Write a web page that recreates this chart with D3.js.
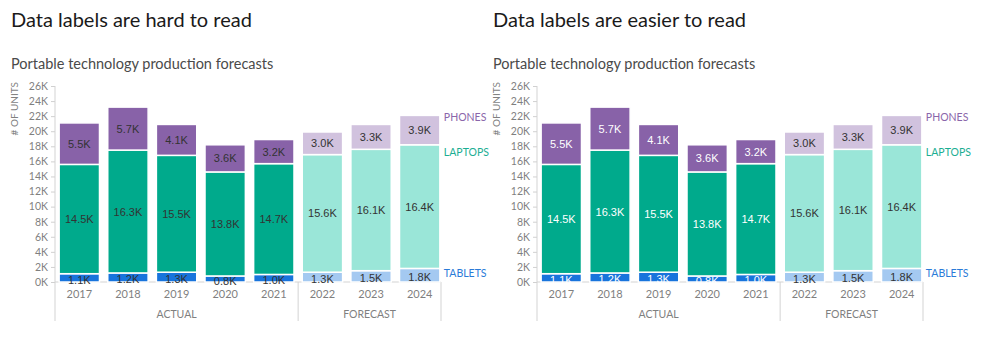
<!DOCTYPE html>
<html lang="en">
    <head>
        <meta charset="utf-8">
        <title>Data labels</title>
        <script src="https://d3js.org/d3.v7.min.js"></script>
        <style type="text/css">
            body {
                margin: 0;
                background: white;
            }
            .title {
                font-family: Lato, sans-serif;
                font-size: 20px;
                fill: #1a1a1a;
            }
            .subtitle {
                font-family: Lato, sans-serif;
                font-size: 14.5px;
                fill: #4a4a4a;
            }
            .tick text, .cat, .group, .ytitle {
                font-family: Lato, sans-serif;
                fill: #7f7f7f;
            }
            .labels {
                font-family: "Liberation Sans", Arial, sans-serif;
                font-size: 11px;
            }
            .legend {
                font-family: Lato, sans-serif;
                font-size: 10.5px;
            }
        </style>
    </head>
    <body>
        <svg width="991" height="350"></svg>
        <script type="text/javascript">

            // data
            const years = ["2017", "2018", "2019", "2020", "2021", "2022", "2023", "2024"];
            const tablets = [1.1, 1.2, 1.3, 0.8, 1.0, 1.3, 1.5, 1.8];
            const laptops = [14.5, 16.3, 15.5, 13.8, 14.7, 15.6, 16.1, 16.4];
            const phones = [5.5, 5.7, 4.1, 3.6, 3.2, 3.0, 3.3, 3.9];
            const forecastFrom = "2022";
            const groups = ["ACTUAL", "FORECAST"];
            const yTicks = [0, 2, 4, 6, 8, 10, 12, 14, 16, 18, 20, 22, 24, 26];
            const seriesNames = ["tablets", "laptops", "phones"];
            const legendNames = ["TABLETS", "LAPTOPS", "PHONES"];

            const colors = {
                tablets:  {actual: "#1874dc", forecast: "#a4c9f1", text: "#2a7bd8"},
                laptops:  {actual: "#00aa8c", forecast: "#9ae6d8", text: "#1bae93"},
                phones:   {actual: "#8862a8", forecast: "#d1c2de", text: "#8a66aa"}
            };

            const dataset = years.map((y, i) => ({
                year: y,
                tablets: tablets[i],
                laptops: laptops[i],
                phones: phones[i]
            }));

            const svg = d3.select("svg");

            const x = d3.scaleBand()
                        .domain(years)
                        .range([55, 444])
                        .paddingInner(0.17)
                        .paddingOuter(0.085);

            const y = d3.scaleLinear()
                        .domain([0, 26])
                        .range([282, 86]);

            const stack = d3.stack().keys(seriesNames);
            const stacked = stack(dataset);

            const isForecast = yr => +yr >= +forecastFrom;

            function drawPanel(offsetX, title, easy) {
                const g = svg.append("g")
                             .attr("transform", "translate(" + offsetX + ",0)");

                g.append("text")
                 .attr("class", "title")
                 .attr("x", 11)
                 .attr("y", 27)
                 .text(title);

                g.append("text")
                 .attr("class", "subtitle")
                 .attr("x", 11)
                 .attr("y", 69)
                 .text("Portable technology production forecasts");

                // y axis
                const yAxis = d3.axisLeft(y)
                                .tickValues(yTicks)
                                .tickFormat(d => d + "K")
                                .tickSize(4)
                                .tickPadding(3);

                const ya = g.append("g")
                            .attr("transform", "translate(55,0)")
                            .call(yAxis);
                ya.select(".domain").remove();
                ya.selectAll(".tick line").attr("stroke", "#d0d0d0");
                ya.selectAll(".tick text").style("font-size", "10.5px");

                g.append("text")
                 .attr("class", "ytitle")
                 .attr("transform", "translate(18,82) rotate(-90)")
                 .attr("text-anchor", "end")
                 .style("font-size", "10px")
                 .text("# OF UNITS");

                // category frame
                const lineColor = "#d3d3d3";
                const split = x(forecastFrom) - x.step() * x.paddingInner() / 2;
                const right = x.range()[1] - 3;
                g.append("line")
                 .attr("x1", 55).attr("x2", 55)
                 .attr("y1", y(26)).attr("y2", 321)
                 .attr("stroke", lineColor);
                g.append("line")
                 .attr("x1", 55).attr("x2", right)
                 .attr("y1", y(0)).attr("y2", y(0))
                 .attr("stroke", lineColor);
                [split, right].forEach(xx => {
                    g.append("line")
                     .attr("x1", xx).attr("x2", xx)
                     .attr("y1", y(0)).attr("y2", 321)
                     .attr("stroke", lineColor);
                });

                g.selectAll("text.cat")
                 .data(years)
                 .enter()
                 .append("text")
                 .attr("class", "cat")
                 .attr("x", d => x(d) + x.bandwidth() / 2)
                 .attr("y", 298)
                 .attr("text-anchor", "middle")
                 .style("font-size", "11px")
                 .text(d => d);

                g.selectAll("text.group")
                 .data(groups)
                 .enter()
                 .append("text")
                 .attr("class", "group")
                 .attr("x", (d, i) => i == 0 ? (55 + split) / 2 : (split + right) / 2)
                 .attr("y", 318)
                 .attr("text-anchor", "middle")
                 .style("font-size", "10.5px")
                 .text(d => d);

                // bars
                const layers = g.selectAll("g.layer")
                                .data(stacked)
                                .enter()
                                .append("g")
                                .attr("class", "layer");

                layers.selectAll("rect")
                      .data(s => s.map(d => ({key: s.key, d: d})))
                      .enter()
                      .append("rect")
                      .attr("x", p => x(p.d.data.year))
                      .attr("width", x.bandwidth())
                      .attr("y", p => y(p.d[1]))
                      .attr("height", p => y(p.d[0]) - y(p.d[1]))
                      .attr("fill", p => isForecast(p.d.data.year) ? colors[p.key].forecast : colors[p.key].actual)
                      .attr("stroke", "white")
                      .attr("stroke-width", 1.5);

                layers.selectAll("text")
                      .data(s => s.map(d => ({key: s.key, d: d})))
                      .enter()
                      .append("text")
                      .attr("class", "labels")
                      .attr("x", p => x(p.d.data.year) + x.bandwidth() / 2)
                      .attr("y", p => (y(p.d[0]) + y(p.d[1])) / 2 + (p.key == "tablets" ? 6 : 4))
                      .attr("text-anchor", "middle")
                      .attr("fill", p => (easy && !isForecast(p.d.data.year)) ? "white" : "#333")
                      .text(p => (p.d[1] - p.d[0]).toFixed(1) + "K");

                // legend next to the last bar
                const last = years[years.length - 1];
                const offs = {tablets: 5, laptops: 7, phones: 2};
                g.selectAll("text.legend")
                 .data(stacked)
                 .enter()
                 .append("text")
                 .attr("class", "legend")
                 .attr("x", x(last) + x.bandwidth() + 4)
                 .attr("y", s => y(s[s.length - 1][1]) + offs[s.key] + 4)
                 .attr("fill", s => colors[s.key].text)
                 .text((s, i) => legendNames[i]);
            }

            drawPanel(0, "Data labels are hard to read", false);
            drawPanel(482, "Data labels are easier to read", true);

        </script>
    </body>
</html>
